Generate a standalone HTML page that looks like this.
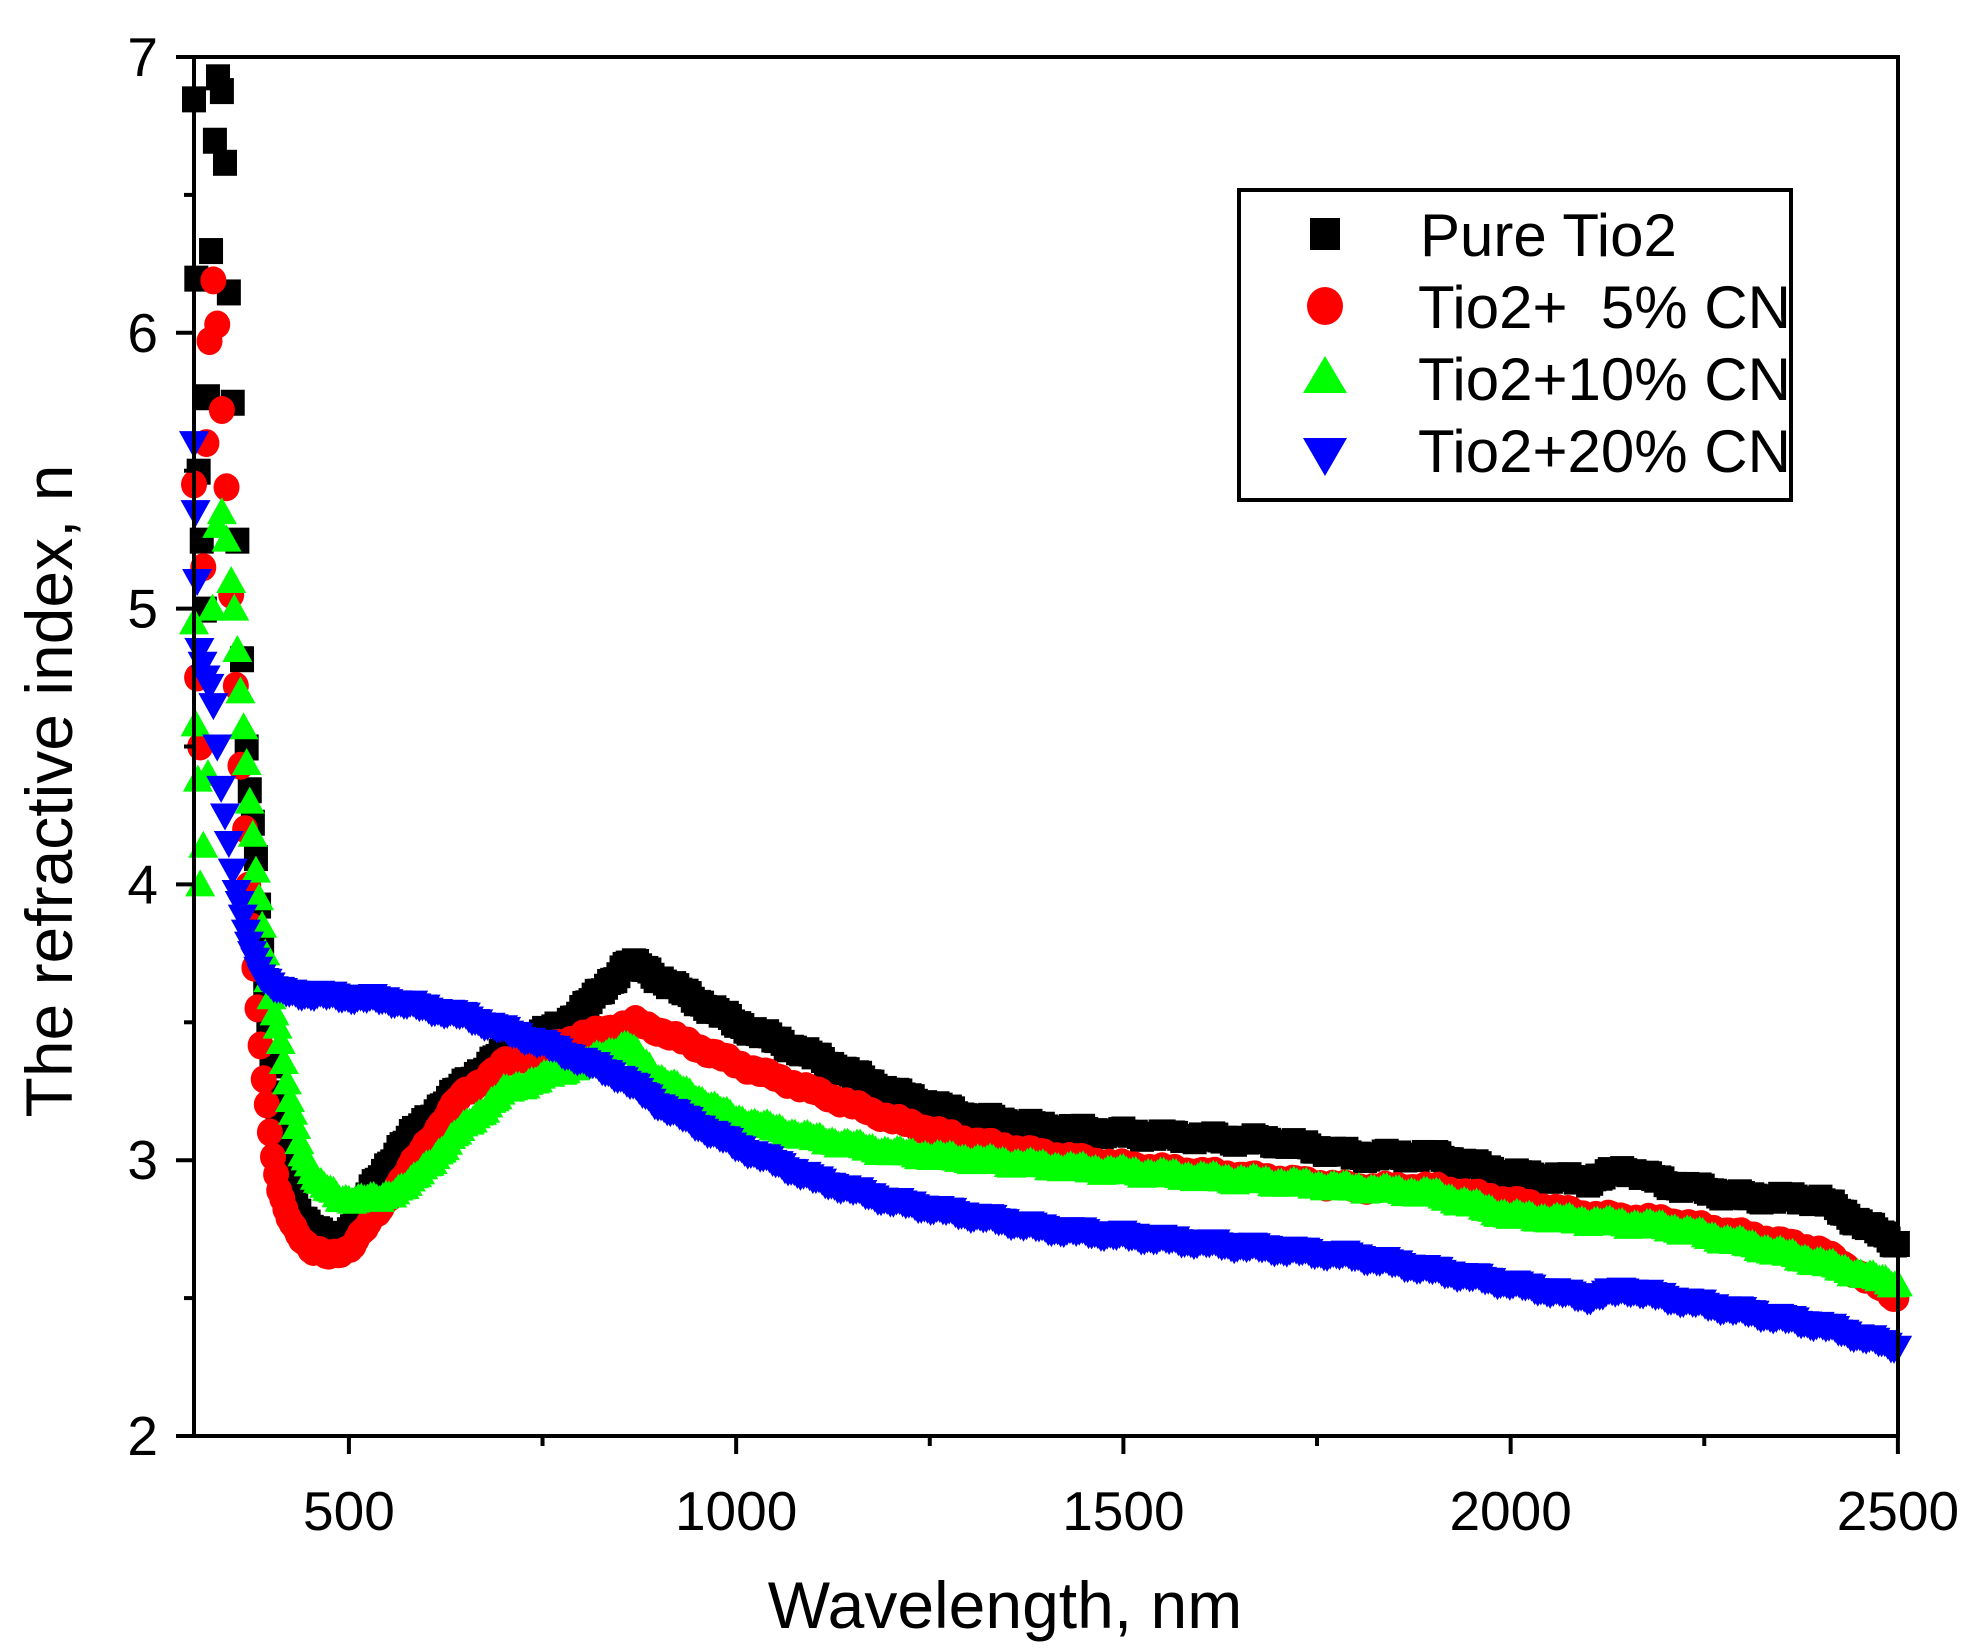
<!DOCTYPE html>
<html><head><meta charset="utf-8"><style>
html,body{margin:0;padding:0;background:#fff;}
svg text{font-family:"Liberation Sans",Arial,sans-serif;fill:#000;}
</style></head><body>
<svg id="s" width="1967" height="1645" viewBox="0 0 1967 1645" xmlns="http://www.w3.org/2000/svg">
<rect width="1967" height="1645" fill="#fff"/>
<g id="data"></g>
<rect x="194" y="57" width="1704" height="1379" fill="none" stroke="#000" stroke-width="4"/>
<g id="ticks" stroke="#000" stroke-width="4"></g>
<g id="labels" font-size="55"></g>
<text x="1005" y="1628" font-size="66" text-anchor="middle">Wavelength, nm</text>
<text transform="translate(72,791) rotate(-90)" font-size="66" text-anchor="middle">The refractive index, n</text>
<rect x="1239" y="190" width="552" height="310" fill="#fff" stroke="#000" stroke-width="4"/>
<rect x="1310" y="218" width="30" height="32" fill="#000"/>
<ellipse cx="1325" cy="306" rx="18" ry="19" fill="#f00"/>
<polygon points="1325,356 1347,393 1303,393" fill="#0f0"/>
<polygon points="1303,438 1347,438 1325,476" fill="#00f"/>
<text x="1420" y="256" font-size="60">Pure Tio2</text>
<text x="1418" y="328" font-size="60" xml:space="preserve">Tio2+  5% CN</text>
<text x="1418" y="400" font-size="60">Tio2+10% CN</text>
<text x="1418" y="472" font-size="60">Tio2+20% CN</text>
</svg>
<script>
var NS="http://www.w3.org/2000/svg";
function X(w){return 194+(w-300)*0.7745;}
function Y(n){return 1436-(n-2)*275.8;}
function el(t,a,p){var e=document.createElementNS(NS,t);for(var k in a)e.setAttribute(k,a[k]);p.appendChild(e);return e;}
var tk=document.getElementById('ticks'),lb=document.getElementById('labels');
for(var v=2;v<=7;v+=0.5){var y=Y(v),maj=(v%1==0);el('line',{x1:194-(maj?18:10),x2:194,y1:y,y2:y},tk);
 if(maj){var t=el('text',{x:158,y:y+19,'text-anchor':'end'},lb);t.textContent=v;}}
for(var w=500;w<=2500;w+=250){var x=X(w),maj=(w%500==0);el('line',{x1:x,x2:x,y1:1436,y2:1436+(maj?18:10)},tk);
 if(maj){var t=el('text',{x:x,y:1530,'text-anchor':'middle'},lb);t.textContent=w;}}
function interp(pts,w){for(var i=0;i<pts.length-1;i++){if(w>=pts[i][0]&&w<=pts[i+1][0]){var f=(w-pts[i][0])/(pts[i+1][0]-pts[i][0]);return pts[i][1]+f*(pts[i+1][1]-pts[i][1]);}}return pts[pts.length-1][1];}
function series(early,start,pts,color,shape,jit){
 var g=el('g',{fill:color},document.getElementById('data'));
 var all=early.slice();
 for(var w=start;w<=2500;w+=4){var n=interp(pts,w)+(Math.sin(w*0.37)+Math.sin(w*0.11))*jit;all.push([w,n]);}
 all.forEach(function(p){var x=X(p[0]),y=Y(p[1]);
  if(shape=='s')el('rect',{x:x-12,y:y-12,width:24,height:26},g);
  else if(shape=='c')el('ellipse',{cx:x,cy:y,rx:13,ry:14},g);
  else if(shape=='u')el('polygon',{points:(x)+','+(y-15)+' '+(x+15)+','+(y+12)+' '+(x-15)+','+(y+12)},g);
  else el('polygon',{points:(x-15)+','+(y-12)+' '+(x+15)+','+(y-12)+' '+x+','+(y+15)},g);});
}
series([[300,6.85],[303,6.2],[306,5.5],[310,5.25],[314,5.0],[318,5.77],[322,6.3],[327,6.7],[331,6.93],[336,6.88],[340,6.62],[345,6.15],[350,5.75],[356,5.25],[362,4.82],[368,4.5]],372,
[[372,4.35],[380,4.1],[390,3.7],[400,3.35],[410,3.1],[420,2.95],[440,2.8],[470,2.72],[495,2.73],[525,2.88],[565,3.05],[625,3.22],[700,3.4],[780,3.5],[820,3.6],[860,3.72],[880,3.7],[920,3.63],[1000,3.5],[1100,3.38],[1200,3.25],[1300,3.16],[1400,3.12],[1500,3.1],[1700,3.07],[1800,3.02],[1900,3.02],[2000,2.95],[2100,2.93],[2150,2.97],[2200,2.92],[2300,2.87],[2400,2.86],[2500,2.7]],'#000','s',0.008);
series([[300,5.45],[304,4.75],[308,4.5],[312,5.15],[316,5.6],[320,5.97],[325,6.19],[330,6.03],[336,5.72],[342,5.44],[348,5.05],[354,4.72],[360,4.43],[366,4.2]],370,
[[370,4.0],[380,3.62],[390,3.3],[400,3.05],[410,2.88],[425,2.77],[450,2.68],[475,2.65],[500,2.68],[535,2.8],[585,3.0],[640,3.22],[700,3.35],[800,3.45],[870,3.5],[900,3.47],[1000,3.35],[1100,3.25],[1200,3.15],[1300,3.07],[1400,3.02],[1500,2.98],[1700,2.93],[1800,2.9],[1900,2.9],[2000,2.85],[2100,2.8],[2200,2.78],[2300,2.73],[2400,2.67],[2500,2.5]],'#f00','c',0.006);
series([[300,4.95],[302,4.58],[305,4.38],[308,4.0],[312,4.14],[318,4.4],[324,5.0],[330,5.3],[336,5.35],[342,5.25],[348,5.1],[352,5.0],[356,4.85],[360,4.7],[364,4.57],[368,4.44],[372,4.3],[376,4.18],[380,4.05],[384,3.95],[388,3.85],[392,3.75]],396,
[[396,3.65],[410,3.45],[425,3.2],[440,3.03],[460,2.92],[490,2.86],[540,2.86],[580,2.92],[640,3.1],[700,3.25],[800,3.35],[860,3.42],[900,3.3],[1000,3.15],[1100,3.08],[1200,3.03],[1400,2.98],[1600,2.94],[1800,2.9],[1900,2.88],[2000,2.8],[2100,2.78],[2200,2.76],[2300,2.7],[2400,2.63],[2500,2.55]],'#0f0','u',0.006);
series([[300,5.6],[302,5.35],[304,5.1],[307,4.85],[311,4.8],[315,4.75],[320,4.72],[325,4.65],[330,4.5],[335,4.35],[340,4.25],[345,4.15],[350,4.05]],355,
[[355,3.97],[365,3.85],[375,3.75],[390,3.66],[410,3.61],[450,3.6],[550,3.58],[650,3.52],[750,3.42],[850,3.3],[900,3.2],[1000,3.05],[1100,2.93],[1200,2.85],[1300,2.8],[1400,2.75],[1600,2.7],[1800,2.65],[1900,2.6],[2000,2.55],[2100,2.5],[2150,2.53],[2200,2.5],[2300,2.45],[2400,2.4],[2500,2.32]],'#00f','d',0.006);
</script>
</body></html>
